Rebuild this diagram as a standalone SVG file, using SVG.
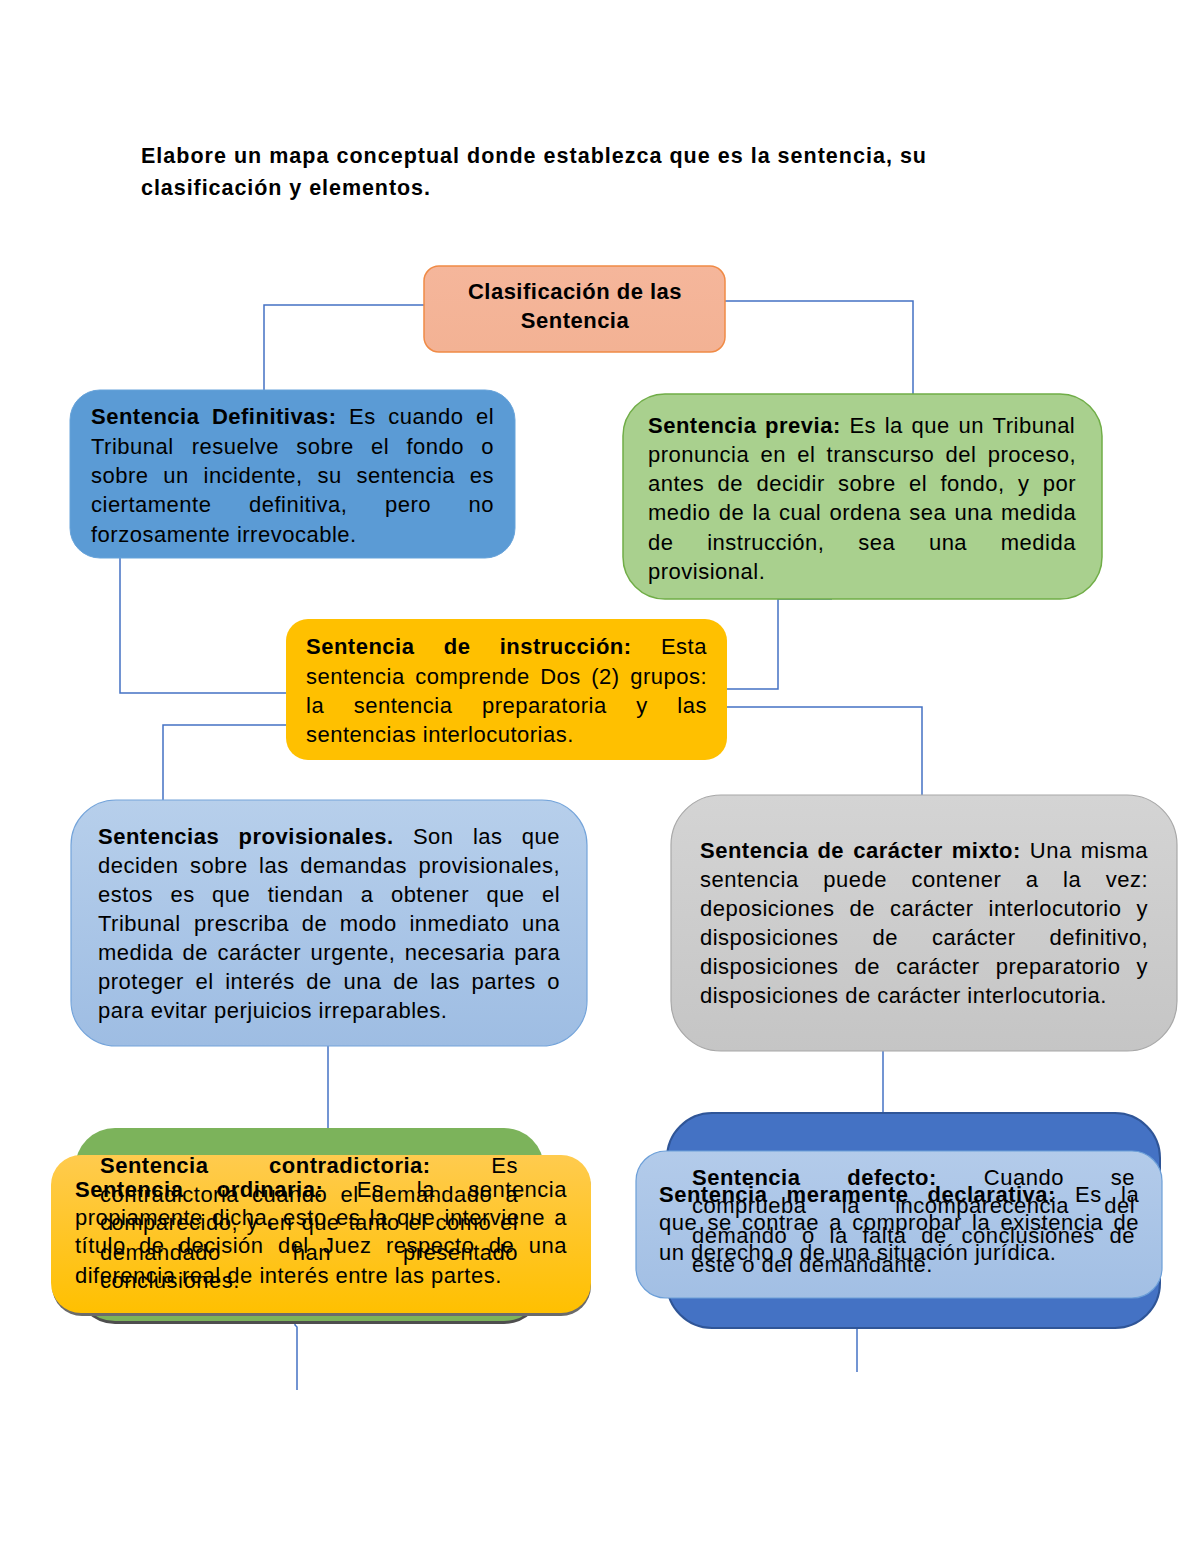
<svg xmlns="http://www.w3.org/2000/svg" width="1200" height="1553" viewBox="0 0 1200 1553">
<defs>
<style>
.cn{fill:none;stroke:#4472C4;stroke-width:1.5}
.t{font-family:"Liberation Sans",Arial,sans-serif;font-size:22px;letter-spacing:0.5px;fill:#000}
.b{font-weight:bold}
.ttl{font-family:"Liberation Sans",Arial,sans-serif;font-size:21.5px;font-weight:bold;fill:#000}
</style>
<linearGradient id="gProv" x1="0" y1="0" x2="0" y2="1"><stop offset="0" stop-color="#B7CFEB"/><stop offset="1" stop-color="#9EBDE3"/></linearGradient>
<linearGradient id="gMix" x1="0" y1="0" x2="0" y2="1"><stop offset="0" stop-color="#D4D4D4"/><stop offset="1" stop-color="#C5C5C5"/></linearGradient>
<linearGradient id="gOrd" x1="0" y1="0" x2="0" y2="1"><stop offset="0" stop-color="#FFCB4E"/><stop offset="1" stop-color="#FFC000"/></linearGradient>
<linearGradient id="gDecl" x1="0" y1="0" x2="0" y2="1"><stop offset="0" stop-color="#B3CBEA"/><stop offset="1" stop-color="#A2BFE4"/></linearGradient>
<linearGradient id="gHead" x1="0" y1="0" x2="0" y2="1"><stop offset="0" stop-color="#F5B69B"/><stop offset="1" stop-color="#F3B294"/></linearGradient>
</defs>
<rect width="1200" height="1553" fill="#FFFFFF"/>

<g id="title">
<text class="ttl" x="141" y="163" textLength="785" lengthAdjust="spacing">Elabore un mapa conceptual donde establezca que es la sentencia, su</text>
<text class="ttl" x="141" y="195" textLength="289" lengthAdjust="spacing">clasificación y elementos.</text>
</g>

<g id="connectors">
<polyline class="cn" points="425,305 264,305 264,390"/>
<polyline class="cn" points="725,301 913,301 913,395"/>
<polyline class="cn" points="120,558 120,693 290,693"/>
<polyline class="cn" points="832,599 778,599 778,689 727,689"/>
<polyline class="cn" points="287,725 163,725 163,801"/>
<polyline class="cn" points="727,707 922,707 922,795"/>
<line class="cn" x1="328" y1="1046" x2="328" y2="1129"/>
<line class="cn" x1="883" y1="1051" x2="883" y2="1114"/>
<polyline class="cn" points="295,1313 295,1325 297,1327 297,1390"/>
<line class="cn" x1="857" y1="1298" x2="857" y2="1372"/>
</g>

<g id="n-clasificacion">
<rect x="424" y="266" width="301" height="86" rx="15" fill="url(#gHead)" stroke="#F08A45" stroke-width="1.5"/>
<text class="t b" x="575" y="299" text-anchor="middle">Clasificación de las</text>
<text class="t b" x="575" y="328" text-anchor="middle">Sentencia</text>
</g>

<g id="n-definitivas">
<rect x="70" y="390" width="445" height="168" rx="30" fill="#5B9BD5" stroke="#67A3DA" stroke-width="1"/>
<text class="t" y="424"><tspan class="b" x="91">Sentencia</tspan><tspan class="b" x="211.9">Definitivas:</tspan><tspan x="349">Es</tspan><tspan x="388.2">cuando</tspan><tspan x="475.9">el</tspan></text>
<text class="t" y="454"><tspan x="91">Tribunal</tspan><tspan x="191.8">resuelve</tspan><tspan x="296.2">sobre</tspan><tspan x="371">el</tspan><tspan x="406.4">fondo</tspan><tspan x="481.2">o</tspan></text>
<text class="t" y="483"><tspan x="91">sobre</tspan><tspan x="163.2">un</tspan><tspan x="203.5">incidente,</tspan><tspan x="317.4">su</tspan><tspan x="356.4">sentencia</tspan><tspan x="469.8">es</tspan></text>
<text class="t" y="512"><tspan x="91">ciertamente</tspan><tspan x="249">definitiva,</tspan><tspan x="385">pero</tspan><tspan x="468.6">no</tspan></text>
<text class="t" x="91" y="542">forzosamente irrevocable.</text>
</g>

<g id="n-previa">
<rect x="623" y="394" width="479" height="205" rx="42" fill="#A9D08E" stroke="#70AD47" stroke-width="1.5"/>
<text class="t" y="433"><tspan class="b" x="648">Sentencia</tspan><tspan class="b" x="765.1">previa:</tspan><tspan x="849.4">Es</tspan><tspan x="884.7">la</tspan><tspan x="911.5">que</tspan><tspan x="958.4">un</tspan><tspan x="992.6">Tribunal</tspan></text>
<text class="t" y="462"><tspan x="648">pronuncia</tspan><tspan x="760.4">en</tspan><tspan x="797.2">el</tspan><tspan x="826.6">transcurso</tspan><tspan x="945.6">del</tspan><tspan x="987.7">proceso,</tspan></text>
<text class="t" y="491"><tspan x="648">antes</tspan><tspan x="717.6">de</tspan><tspan x="756.5">decidir</tspan><tspan x="838.1">sobre</tspan><tspan x="908.9">el</tspan><tspan x="940.4">fondo,</tspan><tspan x="1017.9">y</tspan><tspan x="1042.7">por</tspan></text>
<text class="t" y="520"><tspan x="648">medio</tspan><tspan x="718.7">de</tspan><tspan x="752.5">la</tspan><tspan x="778.9">cual</tspan><tspan x="829.4">ordena</tspan><tspan x="909.2">sea</tspan><tspan x="954.5">una</tspan><tspan x="1001">medida</tspan></text>
<text class="t" y="550"><tspan x="648">de</tspan><tspan x="707.2">instrucción,</tspan><tspan x="858.2">sea</tspan><tspan x="928.9">una</tspan><tspan x="1000.8">medida</tspan></text>
<text class="t" x="648" y="579">provisional.</text>
</g>

<g id="n-instruccion">
<rect x="286" y="619" width="441" height="141" rx="22" fill="#FFC000"/>
<text class="t" y="654"><tspan class="b" x="306">Sentencia</tspan><tspan class="b" x="443.7">de</tspan><tspan class="b" x="499.7">instrucción:</tspan><tspan x="660.9">Esta</tspan></text>
<text class="t" y="684"><tspan x="306">sentencia</tspan><tspan x="415.2">comprende</tspan><tspan x="540.2">Dos</tspan><tspan x="591.3">(2)</tspan><tspan x="630.2">grupos:</tspan></text>
<text class="t" y="713"><tspan x="306">la</tspan><tspan x="353.7">sentencia</tspan><tspan x="482">preparatoria</tspan><tspan x="636.2">y</tspan><tspan x="677.3">las</tspan></text>
<text class="t" x="306" y="742">sentencias interlocutorias.</text>
</g>

<g id="n-provisionales">
<rect x="71" y="800" width="516" height="246" rx="45" fill="url(#gProv)" stroke="#74A4DA" stroke-width="1.2"/>
<text class="t" y="844"><tspan class="b" x="98">Sentencias</tspan><tspan class="b" x="238.6">provisionales.</tspan><tspan x="412.9">Son</tspan><tspan x="472.9">las</tspan><tspan x="521.8">que</tspan></text>
<text class="t" y="873"><tspan x="98">deciden</tspan><tspan x="190.1">sobre</tspan><tspan x="259.1">las</tspan><tspan x="300.3">demandas</tspan><tspan x="418.5">provisionales,</tspan></text>
<text class="t" y="902"><tspan x="98">estos</tspan><tspan x="170.5">es</tspan><tspan x="212.1">que</tspan><tspan x="267.7">tiendan</tspan><tspan x="360.8">a</tspan><tspan x="390.9">obtener</tspan><tspan x="486.4">que</tspan><tspan x="542">el</tspan></text>
<text class="t" y="931"><tspan x="98">Tribunal</tspan><tspan x="194.1">prescriba</tspan><tspan x="301.7">de</tspan><tspan x="339.8">modo</tspan><tspan x="409.4">inmediato</tspan><tspan x="521.9">una</tspan></text>
<text class="t" y="960"><tspan x="98">medida</tspan><tspan x="182.6">de</tspan><tspan x="217.6">carácter</tspan><tspan x="310.6">urgente,</tspan><tspan x="404.8">necesaria</tspan><tspan x="514.2">para</tspan></text>
<text class="t" y="989"><tspan x="98">proteger</tspan><tspan x="195.5">el</tspan><tspan x="225.2">interés</tspan><tspan x="306.3">de</tspan><tspan x="343.4">una</tspan><tspan x="393.2">de</tspan><tspan x="430.3">las</tspan><tspan x="471.5">partes</tspan><tspan x="547.2">o</tspan></text>
<text class="t" x="98" y="1018">para evitar perjuicios irreparables.</text>
</g>

<g id="n-mixto">
<rect x="671" y="795" width="506" height="256" rx="50" fill="url(#gMix)" stroke="#A8A8A8" stroke-width="1.2"/>
<text class="t" y="858"><tspan class="b" x="700">Sentencia</tspan><tspan class="b" x="817.4">de</tspan><tspan class="b" x="853.2">carácter</tspan><tspan class="b" x="951.8">mixto:</tspan><tspan x="1029.8">Una</tspan><tspan x="1080.7">misma</tspan></text>
<text class="t" y="887"><tspan x="700">sentencia</tspan><tspan x="823.3">puede</tspan><tspan x="911.6">contener</tspan><tspan x="1025.8">a</tspan><tspan x="1063.1">la</tspan><tspan x="1105.8">vez:</tspan></text>
<text class="t" y="916"><tspan x="700">deposiciones</tspan><tspan x="849.5">de</tspan><tspan x="890">carácter</tspan><tspan x="988.5">interlocutorio</tspan><tspan x="1136.5">y</tspan></text>
<text class="t" y="945"><tspan x="700">disposiciones</tspan><tspan x="872.5">de</tspan><tspan x="932">carácter</tspan><tspan x="1049.6">definitivo,</tspan></text>
<text class="t" y="974"><tspan x="700">disposiciones</tspan><tspan x="854.6">de</tspan><tspan x="896.2">carácter</tspan><tspan x="995.8">preparatorio</tspan><tspan x="1136.5">y</tspan></text>
<text class="t" x="700" y="1003">disposiciones de carácter interlocutoria.</text>
</g>

<g id="n-contradictoria">
<rect x="75" y="1130" width="469" height="194" rx="40" fill="#4E4E4E"/>
<rect x="75" y="1128" width="469" height="193" rx="40" fill="#7CB35B"/>
</g>

<g id="n-ordinaria">
<rect x="52" y="1158" width="539" height="158" rx="30" fill="#6B6B6B"/>
<rect x="51" y="1155" width="540" height="158" rx="30" fill="url(#gOrd)"/>
<text class="t" y="1197"><tspan class="b" x="75">Sentencia</tspan><tspan class="b" x="216.8">ordinaria:</tspan><tspan x="356.7">Es</tspan><tspan x="416.8">la</tspan><tspan x="468.3">sentencia</tspan></text>
<text class="t" y="1225"><tspan x="75">propiamente</tspan><tspan x="212.1">dicha,</tspan><tspan x="283.1">esto</tspan><tspan x="336">es</tspan><tspan x="369.5">la</tspan><tspan x="397">que</tspan><tspan x="444.5">interviene</tspan><tspan x="554.2">a</tspan></text>
<text class="t" y="1253"><tspan x="75">título</tspan><tspan x="138.9">de</tspan><tspan x="178.8">decisión</tspan><tspan x="277.9">del</tspan><tspan x="323.1">Juez</tspan><tspan x="386">respecto</tspan><tspan x="488.8">de</tspan><tspan x="528.7">una</tspan></text>
<text class="t" x="75" y="1283">diferencia real de interés entre las partes.</text>
</g>

<g id="n-contradictoria-text">
<text class="t" y="1173"><tspan class="b" x="100">Sentencia</tspan><tspan class="b" x="269.1">contradictoria:</tspan><tspan x="491.3">Es</tspan></text>
<text class="t" y="1202"><tspan x="100">contradictoria</tspan><tspan x="252.1">cuando</tspan><tspan x="340.4">el</tspan><tspan x="371.6">demandado</tspan><tspan x="505.4">a</tspan></text>
<text class="t" y="1230"><tspan x="100">comparecido,</tspan><tspan x="246.8">y</tspan><tspan x="267.1">en</tspan><tspan x="301.4">que</tspan><tspan x="348.4">tanto</tspan><tspan x="408.6">el</tspan><tspan x="435.5">como</tspan><tspan x="500.1">el</tspan></text>
<text class="t" y="1260"><tspan x="100">demandado</tspan><tspan x="292.7">han</tspan><tspan x="402.9">presentado</tspan></text>
<text class="t" x="100" y="1288">conclusiones.</text>
</g>

<g id="n-defecto">
<rect x="667" y="1113" width="493" height="215" rx="45" fill="#4472C4" stroke="#2F5597" stroke-width="2"/>
</g>

<g id="n-declarativa">
<rect x="636" y="1151" width="526" height="147" rx="30" fill="url(#gDecl)" stroke="#6C9FD8" stroke-width="1.2"/>
<text class="t" y="1202"><tspan class="b" x="659">Sentencia</tspan><tspan class="b" x="786.6">meramente</tspan><tspan class="b" x="927.6">declarativa:</tspan><tspan x="1075.1">Es</tspan><tspan x="1121">la</tspan></text>
<text class="t" y="1230"><tspan x="659">que</tspan><tspan x="707.5">se</tspan><tspan x="742">contrae</tspan><tspan x="829.2">a</tspan><tspan x="852.2">comprobar</tspan><tspan x="972.1">la</tspan><tspan x="1000.5">existencia</tspan><tspan x="1113.6">de</tspan></text>
<text class="t" x="659" y="1260">un derecho o de una situación jurídica.</text>
</g>

<g id="n-defecto-text">
<text class="t" y="1185"><tspan class="b" x="692">Sentencia</tspan><tspan class="b" x="847.3">defecto:</tspan><tspan x="983.8">Cuando</tspan><tspan x="1110.7">se</tspan></text>
<text class="t" y="1213"><tspan x="692">comprueba</tspan><tspan x="841.8">la</tspan><tspan x="895.2">incomparecencia</tspan><tspan x="1104.2">del</tspan></text>
<text class="t" y="1243"><tspan x="692">demando</tspan><tspan x="802">o</tspan><tspan x="829.5">la</tspan><tspan x="862.4">falta</tspan><tspan x="921.3">de</tspan><tspan x="961.6">conclusiones</tspan><tspan x="1109.6">de</tspan></text>
<text class="t" x="692" y="1272">este o del demandante.</text>
</g>
</svg>
